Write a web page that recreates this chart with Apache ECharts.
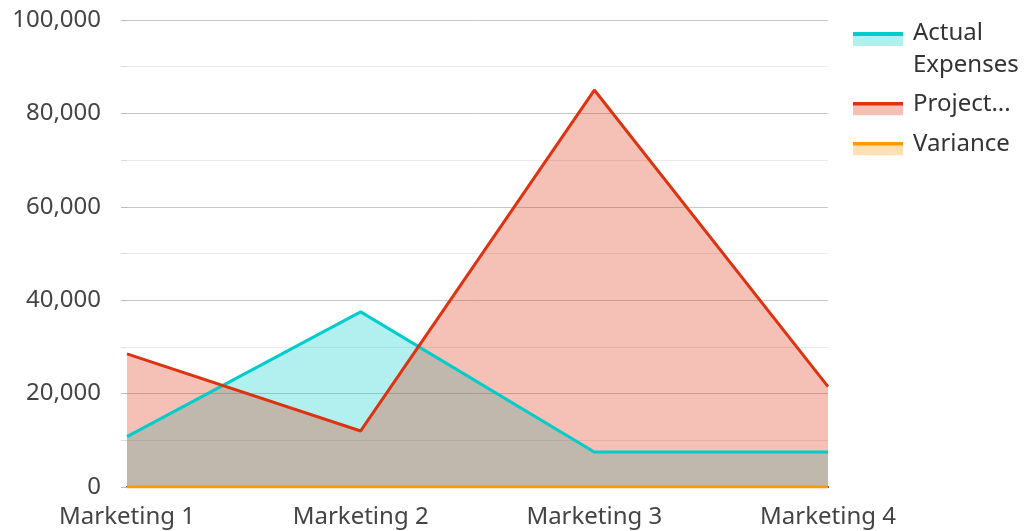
<!DOCTYPE html>
<html><head><meta charset="utf-8">
<script src="https://cdn.jsdelivr.net/npm/echarts@6/dist/echarts.min.js"></script>
<style>html,body{margin:0;padding:0;background:#fff}#c{width:1025px;height:531px}</style>
</head><body><div id="c"></div>
<script>
const categories = ['Marketing 1', 'Marketing 2', 'Marketing 3', 'Marketing 4'];
const actualExpenses = [10800, 37500, 7500, 7500];
const projectedExpenses = [28500, 12000, 85000, 21500];
const variance = [0, 0, 0, 0];
const seriesNames = ['Actual Expenses', 'Projected Expenses', 'Variance'];
const legendLabels = ['{t| }\n{a|Actual}\n{a|Expenses}', '{a|Project...}\n{b| }', '{a|Variance}\n{b| }'];
const seriesColors = ['#00CCCC', '#DD3311', '#FF9900'];

function iconFor(color) {
  const svg = "<svg xmlns='http://www.w3.org/2000/svg' width='50' height='14'>" +
    "<rect x='0' y='3.5' width='50' height='10.5' fill='" + color + "' fill-opacity='0.3'/>" +
    "<rect x='0' y='0' width='50' height='4' fill='" + color + "'/></svg>";
  return 'image://data:image/svg+xml;charset=utf-8,' + encodeURIComponent(svg);
}

const font = 'Noto Sans';
const FS = 24;
const chart = echarts.init(document.getElementById('c'));
const dataSets = [actualExpenses, projectedExpenses, variance];
const legendTops = [5, 92, 132];

const legends = seriesNames.map((n, i) => ({
  orient: 'vertical', left: 853, top: legendTops[i], padding: 0,
  itemWidth: 50, itemHeight: 14,
  data: [{ name: n, icon: iconFor(seriesColors[i]) }],
  formatter: () => legendLabels[i],
  textStyle: {
    fontSize: FS, color: '#333', fontFamily: font,
    rich: {
      a: { fontSize: FS, color: '#333', fontFamily: font, lineHeight: 32, padding: [0, 0, 0, 5] },
      t: { fontSize: 4, lineHeight: 20 },
      b: { fontSize: 4, lineHeight: 9 }
    }
  }
}));

const areaSeries = seriesNames.map((n, i) => ({
  name: n, type: 'line', data: dataSets[i], showSymbol: false, symbol: 'none',
  lineStyle: { width: 0, opacity: 0 },
  itemStyle: { color: seriesColors[i] },
  areaStyle: { color: seriesColors[i], opacity: 0.3 },
  z: 1
}));
const lineSeries = seriesNames.map((n, i) => ({
  name: n, type: 'line', data: dataSets[i], showSymbol: false, symbol: 'none',
  lineStyle: { color: seriesColors[i], width: 3 },
  itemStyle: { color: seriesColors[i] },
  z: 3 + i
}));

chart.setOption({
  animation: false,
  textStyle: { fontFamily: font },
  grid: { left: 127, right: 197, top: 20, bottom: 44, containLabel: false },
  legend: legends,
  xAxis: {
    type: 'category', data: categories, boundaryGap: false,
    axisLine: { show: true, lineStyle: { color: '#333', width: 2 } },
    axisTick: { show: false },
    axisLabel: { fontSize: FS, color: '#444', fontFamily: font, margin: 18 },
    splitLine: { show: false }
  },
  yAxis: {
    type: 'value', min: 0, max: 100000, interval: 20000,
    axisLine: { show: false },
    axisTick: { show: true, length: 6, lineStyle: { color: '#bbb' } },
    minorTick: { show: true, splitNumber: 2, length: 6, lineStyle: { color: '#ddd' } },
    minorSplitLine: { show: true, lineStyle: { color: '#eaeaea', width: 1 } },
    splitLine: { show: true, lineStyle: { color: '#c8c8c8', width: 1 } },
    axisLabel: { fontSize: FS, color: '#444', fontFamily: font, margin: 26,
      formatter: v => v.toLocaleString('en-US') }
  },
  series: areaSeries.concat(lineSeries)
});
</script></body></html>
